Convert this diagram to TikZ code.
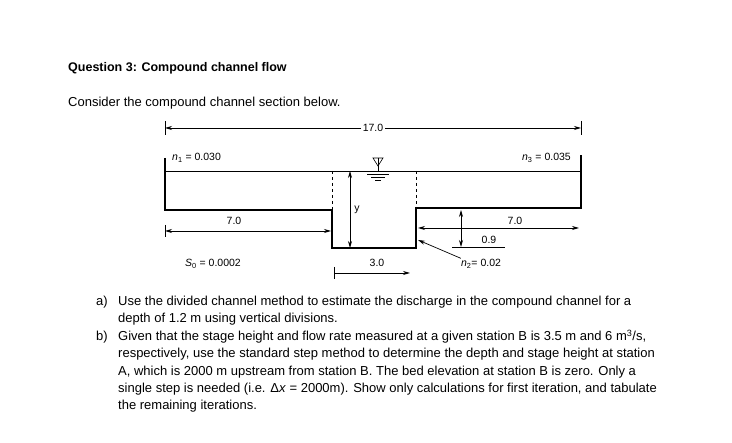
\documentclass[tikz,border=0pt]{standalone}
\usepackage{fontspec}
\setmainfont{Liberation Sans}
\newfontfamily\dimfont{Liberation Sans}
\usetikzlibrary{arrows.meta}
\begin{document}
\begin{tikzpicture}[x=1pt,y=-1pt,
  txt/.style={anchor=base west,inner sep=0pt,font=\fontsize{13}{15}\selectfont},
  lab/.style={inner sep=0pt,font=\dimfont\fontsize{10.5}{12}\selectfont},
  wall/.style={line width=1.8pt},
  dim/.style={line width=0.7pt,-{Stealth[length=7pt,width=4pt]}},
  dimb/.style={line width=0.7pt,{Stealth[length=7pt,width=4pt]}-{Stealth[length=7pt,width=4pt]}}]
\useasboundingbox (0,0) rectangle (732,443);
\node[txt,font=\bfseries\fontsize{12.5}{14}\selectfont] (title) at (68,72) {Question 3: Compound channel flow};
\node[txt] (intro) at (68,107) {Consider the compound channel section below.};
% channel
\draw[wall] (165,158) -- (165,210) -- (332,210) -- (332,248) -- (416,248) -- (416,208) -- (581,208) -- (581,155);
\draw[line width=0.9pt] (165,171) -- (581,171);
\draw[dashed,line width=0.7pt] (332,171) -- (332,210) (416,171) -- (416,208);
% 17.0
\coordinate (tl) at (165,128); \coordinate (tr) at (581,128);
\node[lab,fill=white,inner sep=2pt] (t17) at (373,128) {17.0};
\draw[dim] (t17) -- (tl); \draw[dim] (t17) -- (tr);
\draw[line width=0.7pt] (165,121) -- (165,135) (581,121) -- (581,135);
\node[lab,anchor=west] (n1) at (172,158) {\textit{n}\textsubscript{1} = 0.030};
\node[lab,anchor=east] (n3) at (571,158) {\textit{n}\textsubscript{3} = 0.035};
% water symbol
\coordinate (ws) at (378,171);
\draw[line width=0.6pt] (373,158) -- (383,158) -- (378,166) -- cycle;
\draw[line width=0.7pt] (367,174) -- (389,174) (371,177) -- (385,177) (375,180) -- (381,180);
\draw[line width=0.7pt] (378,158) -- (378,171);
% y
\coordinate (y1) at (350,171); \coordinate (y2) at (350,248);
\draw[dimb] (y1) -- (y2);
\node[lab] (ylab) at (357,210) {y};
% 7.0 left
\coordinate (l1) at (165,231); \coordinate (l2) at (331,231);
\draw[dimb] (l1) -- (l2); \draw[line width=0.7pt] (165,225) -- (165,237);
\node[lab] (l7) at (234,221) {7.0};
% 7.0 right
\coordinate (r1) at (418,228); \coordinate (r2) at (579,228);
\draw[dimb] (r1) -- (r2);
\node[lab] (r7) at (515,221) {7.0};
% 0.9
\coordinate (h1) at (461,210); \coordinate (h2) at (461,247);
\draw[dimb] (h1) -- (h2);
\draw[line width=0.7pt] (452,247) -- (505,247);
\node[lab] (h9) at (489,240) {0.9};
% n2
\node[lab] (n2) at (481,264) {\textit{n}\textsubscript{2}= 0.02};
\coordinate (n2p) at (418,240);
\draw[dim] (n2.north west) ++(0,-1) -- (n2p);
\node[lab] (s0) at (213,264) {\textit{S}\textsubscript{0} = 0.0002};
% 3.0
\node[lab] (t3) at (377,263) {3.0};
\coordinate (b1) at (334,273); \coordinate (b2) at (410,273);
\draw[dim] (b1) -- (b2); \draw[line width=0.7pt] (334,267) -- (334,279);
% questions
\node[txt] (qa) at (96,306) {a)};
\node[txt] at (118,306) {Use the divided channel method to estimate the discharge in the compound channel for a};
\node[txt] at (118,323) {depth of 1.2 m using vertical divisions.};
\node[txt] (qb) at (96,341) {b)};
\node[txt] at (118,341) {Given that the stage height and flow rate measured at a given station B is 3.5 m and 6 m\textsuperscript{3}/s,};
\node[txt] at (118,358) {respectively, use the standard step method to determine the depth and stage height at station};
\node[txt] at (118,376) {A, which is 2000 m upstream from station B. The bed elevation at station B is zero. Only a};
\node[txt] at (118,393) {single step is needed (i.e. Δ\textit{x} = 2000m). Show only calculations for first iteration, and tabulate};
\node[txt] at (118,410) {the remaining iterations.};
\end{tikzpicture}
\end{document}
